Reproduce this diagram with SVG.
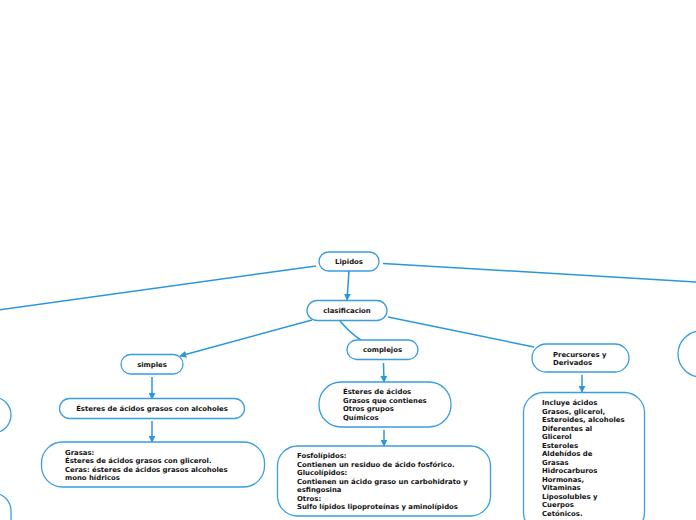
<svg xmlns="http://www.w3.org/2000/svg" width="696" height="520" viewBox="0 0 696 520">
<style>
.n{fill:#fff;stroke:#3a9de0;stroke-width:1.3}
.c{fill:none;stroke:#2a96dc;stroke-width:1.5}
text{font-family:"DejaVu Sans",Verdana,sans-serif;font-weight:bold;font-size:6.9px;fill:#111}
.m{text-anchor:middle}
</style>
<defs>
<marker id="ah" viewBox="0 0 10 10" refX="9" refY="5" markerWidth="7" markerHeight="7" markerUnits="userSpaceOnUse" orient="auto">
<path d="M0,0 L10,5 L0,10 Z" fill="#2a96dc"/>
</marker>
</defs>
<rect width="696" height="520" fill="#fff"/>
<g id="connectors">
<line class="c" x1="316" y1="266" x2="-2" y2="310"/>
<line class="c" x1="383" y1="263.5" x2="698" y2="282"/>
<line class="c" x1="349" y1="271" x2="347" y2="300" marker-end="url(#ah)"/>
<line class="c" x1="312" y1="320" x2="180" y2="356" marker-end="url(#ah)"/>
<path class="c" d="M340,321 Q350,333 361,340"/>
<line class="c" x1="388" y1="317" x2="534" y2="347"/>
<line class="c" x1="152" y1="377" x2="152" y2="399" marker-end="url(#ah)"/>
<line class="c" x1="152" y1="421" x2="152" y2="442" marker-end="url(#ah)"/>
<line class="c" x1="383.5" y1="363" x2="384" y2="382" marker-end="url(#ah)"/>
<line class="c" x1="384" y1="430" x2="384" y2="446" marker-end="url(#ah)"/>
<line class="c" x1="582" y1="375" x2="582" y2="392" marker-end="url(#ah)"/>
</g>
<g id="lipidos"><rect class="n" x="319" y="252" width="60" height="19" rx="9.5"/><text class="m" x="349" y="263.8">Lipidos</text></g>
<g id="clasificacion"><rect class="n" x="307" y="300.5" width="80" height="20" rx="10"/><text class="m" x="347" y="312.8">clasificacion</text></g>
<g id="complejos"><rect class="n" x="347" y="340" width="71" height="19.5" rx="9.7"/><text class="m" x="382.5" y="352.2">complejos</text></g>
<g id="simples"><rect class="n" x="121" y="354.5" width="62" height="19.5" rx="9.7"/><text class="m" x="152" y="366.8">simples</text></g>
<g id="precursores"><rect class="n" x="532" y="344" width="97" height="28" rx="14"/><text x="553" y="356.5">Precursores y</text><text x="553" y="365">Derivados</text></g>
<g id="esteres-alcoholes"><rect class="n" x="59.5" y="398.5" width="185" height="20" rx="10"/><text class="m" x="152" y="410.8">Ésteres de ácidos grasos con alcoholes</text></g>
<g id="grasas"><rect class="n" x="41.5" y="442" width="223" height="45" rx="21"/>
<text x="65" y="454.5">Grasas:</text><text x="65" y="463">Ésteres de ácidos grasos con glicerol.</text><text x="65" y="471.5">Ceras: ésteres de ácidos grasos alcoholes</text><text x="65" y="480">mono hídricos</text></g>
<g id="esteres-otros"><rect class="n" x="319" y="382" width="132" height="45" rx="22"/>
<text x="343" y="394">Ésteres de ácidos</text><text x="343" y="402.5">Grasos que contienes</text><text x="343" y="411">Otros grupos</text><text x="343" y="419.5">Químicos</text></g>
<g id="fosfolipidos"><rect class="n" x="277.5" y="446" width="213" height="70" rx="20"/>
<text x="297" y="458">Fosfolípidos:</text><text x="297" y="466.5">Contienen un residuo de ácido fosfórico.</text><text x="297" y="475">Glucolípidos:</text><text x="297" y="483.5">Contienen un ácido graso un carbohidrato y</text><text x="297" y="492">esfingosina</text><text x="297" y="500.5">Otros:</text><text x="297" y="509">Sulfo lípidos lipoproteínas y aminolípidos</text></g>
<g id="incluye"><rect class="n" x="523.5" y="392.5" width="121" height="140" rx="20"/>
<text x="542" y="405">Incluye ácidos</text><text x="542" y="413.5">Grasos, glicerol,</text><text x="542" y="422">Esteroides, alcoholes</text><text x="542" y="430.5">Diferentes al</text><text x="542" y="439">Glicerol</text><text x="542" y="447.5">Esteroles</text><text x="542" y="456">Aldehídos de</text><text x="542" y="464.5">Grasas</text><text x="542" y="473">Hidrocarburos</text><text x="542" y="481.5">Hormonas,</text><text x="542" y="490">Vitaminas</text><text x="542" y="498.5">Liposolubles y</text><text x="542" y="507">Cuerpos</text><text x="542" y="515.5">Cetónicos.</text></g>
<g id="left-1"><rect class="n" x="-80" y="397" width="91" height="36" rx="18"/></g>
<g id="left-2"><rect class="n" x="-80" y="493" width="91" height="50" rx="18"/></g>
<g id="right-1"><rect class="n" x="678" y="331" width="100" height="46" rx="23"/></g>
</svg>
